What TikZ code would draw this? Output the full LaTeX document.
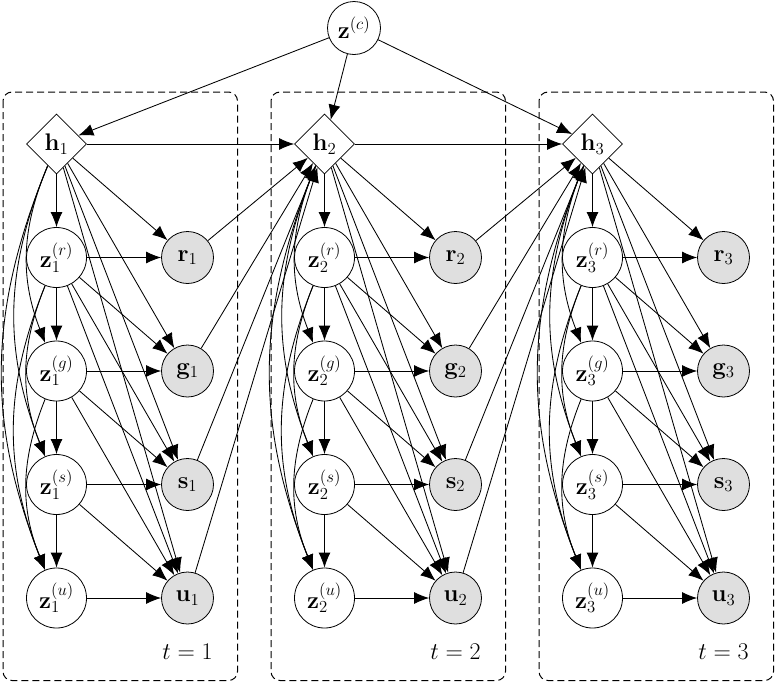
\documentclass[tikz,border=0pt]{standalone}
\usepackage{fix-cm}
\DeclareMathSizes{24}{24}{16.8}{12}
\usetikzlibrary{arrows.meta,shapes.geometric}
\pgfdeclarelayer{edgelayer}
\pgfsetlayers{edgelayer,main}
\begin{document}
\begin{tikzpicture}[x=1pt,y=-1pt,
  every node/.append style={font=\fontsize{24}{28}\selectfont},
  lat/.style={circle,draw,fill=white,minimum size=60pt,inner sep=0pt,line width=0.8pt},
  obsv/.style={circle,draw,fill=gray!25,minimum size=52pt,inner sep=0pt,line width=0.8pt},
  det/.style={diamond,draw,fill=white,minimum size=60pt,inner sep=0pt,aspect=1,line width=0.8pt},
  plate/.style={draw,line width=1pt,dash pattern=on 7pt off 4pt,rounded corners=9pt},
  arr/.style={-{Latex[length=15pt,width=12pt]},line width=0.85pt},
]
\useasboundingbox (0,0) rectangle (777,686);

\node[lat,minimum size=53pt] (zc) at (354,28) {$\mathbf{z}^{(c)}$};

\foreach \i/\cx in {1/56.5,2/324.5,3/592.5} {
  \draw[plate] (\cx-53.5,92) rectangle (\cx+181,680.5);
  \node[det] (h\i) at (\cx,144) {$\mathbf{h}_\i$};
  \node[lat] (zr\i) at (\cx,257.5) {$\mathbf{z}_\i^{(r)}$};
  \node[lat] (zg\i) at (\cx,371) {$\mathbf{z}_\i^{(g)}$};
  \node[lat] (zs\i) at (\cx,484.5) {$\mathbf{z}_\i^{(s)}$};
  \node[lat] (zu\i) at (\cx,598) {$\mathbf{z}_\i^{(u)}$};
  \node[obsv] (r\i) at (\cx+131,257.5) {$\mathbf{r}_\i$};
  \node[obsv] (g\i) at (\cx+131,371) {$\mathbf{g}_\i$};
  \node[obsv] (s\i) at (\cx+131,484.5) {$\mathbf{s}_\i$};
  \node[obsv] (u\i) at (\cx+131,598) {$\mathbf{u}_\i$};
  \node (t\i) at (\cx+131,652) {$t=\i$};
}

\begin{pgfonlayer}{edgelayer}
\foreach \i in {1,2,3} {
  \draw[arr] (zc) -- (h\i);
  \foreach \a/\b in {h/zr,zr/zg,zg/zs,zs/zu}
    \draw[arr] (\a\i) -- (\b\i);
  \foreach \a/\b in {h/zg,h/zs,h/zu,zr/zs,zr/zu,zg/zu}
    \draw[arr] (\a\i) to[bend right=22] (\b\i);
  \foreach \a/\b in {h/r,h/g,h/s,h/u,zr/r,zr/g,zr/s,zr/u,zg/g,zg/s,zg/u,zs/s,zs/u,zu/u}
    \draw[arr] (\a\i) -- (\b\i);
}
\foreach \i/\j in {1/2,2/3} {
  \draw[arr] (h\i) -- (h\j);
  \foreach \o in {r,g,s,u}
    \draw[arr] (\o\i) -- (h\j);
}
\end{pgfonlayer}
\end{tikzpicture}
\end{document}
